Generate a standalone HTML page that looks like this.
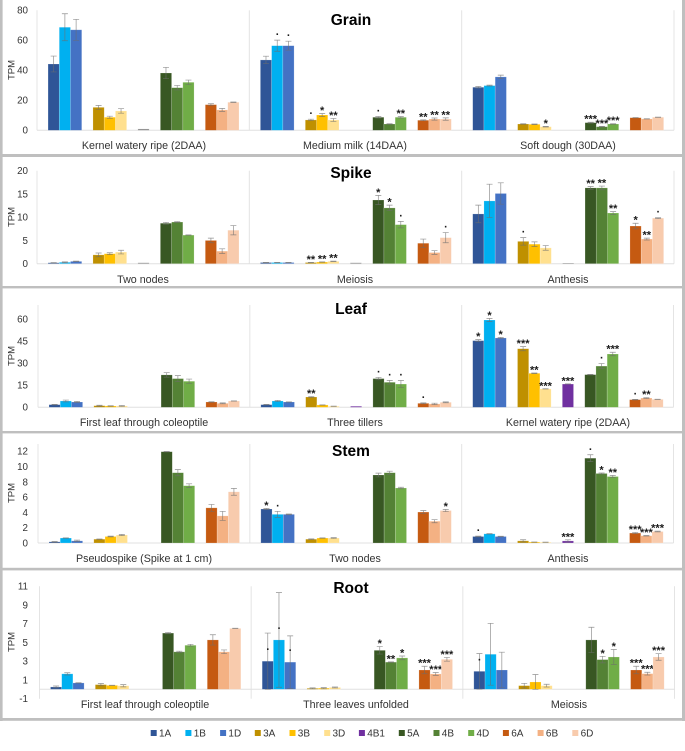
<!DOCTYPE html>
<html lang="en">
<head>
<meta charset="utf-8">
<title>TPM expression by tissue and stage</title>
<style>
html,body{margin:0;padding:0;background:#fff;width:685px;height:751px;overflow:hidden}
svg{display:block;filter:blur(0.35px)}
text{font-family:"Liberation Sans",sans-serif;fill:#333}
.title{font-size:15.5px;font-weight:700;fill:#000;text-anchor:middle}
.cat{font-size:10.7px;text-anchor:middle}
.tpm{font-size:9.5px;text-anchor:middle}
.tick{font-size:9.8px;text-anchor:end}
.legend{font-size:10px}
.mark{font-size:11px;text-anchor:middle;fill:#1a1a1a}
</style>
</head>
<body>
<svg id="figure" width="685" height="751" viewBox="0 0 685 751" xmlns="http://www.w3.org/2000/svg">
  <rect x="0" y="0" width="685" height="751" fill="#fff"/>
  <g fill="#bfbfbf">
    <rect x="0" y="0" width="2.6" height="721"/>
    <rect x="682" y="0" width="3" height="721"/>
    <rect x="0" y="154" width="685" height="3"/>
    <rect x="0" y="286" width="685" height="2.4"/>
    <rect x="0" y="431" width="685" height="2.4"/>
    <rect x="0" y="567.8" width="685" height="2.6"/>
    <rect x="0" y="718" width="685" height="2.8"/>
  </g>

  <g id="panel-grain">
    <text class="title" x="351" y="25">Grain</text>
    <text class="tpm" transform="translate(14.5,70) rotate(-90)">TPM</text>
    <text class="cat" x="144" y="149">Kernel watery ripe (2DAA)</text>
    <text class="cat" x="355" y="149">Medium milk (14DAA)</text>
    <text class="cat" x="568" y="149">Soft dough (30DAA)</text>
  </g>
  <g id="panel-spike">
    <text class="title" x="351" y="178">Spike</text>
    <text class="tpm" transform="translate(14.5,217) rotate(-90)">TPM</text>
    <text class="cat" x="143" y="283">Two nodes</text>
    <text class="cat" x="355" y="283">Meiosis</text>
    <text class="cat" x="568" y="283">Anthesis</text>
  </g>
  <g id="panel-leaf">
    <text class="title" x="351" y="314">Leaf</text>
    <text class="tpm" transform="translate(14.5,356) rotate(-90)">TPM</text>
    <text class="cat" x="144" y="426">First leaf through coleoptile</text>
    <text class="cat" x="355" y="426">Three tillers</text>
    <text class="cat" x="568" y="426">Kernel watery ripe (2DAA)</text>
  </g>
  <g id="panel-stem">
    <text class="title" x="351" y="456">Stem</text>
    <text class="tpm" transform="translate(14.5,493) rotate(-90)">TPM</text>
    <text class="cat" x="144" y="562">Pseudospike (Spike at 1 cm)</text>
    <text class="cat" x="355" y="562">Two nodes</text>
    <text class="cat" x="568" y="562">Anthesis</text>
  </g>
  <g id="panel-root">
    <text class="title" x="351" y="593">Root</text>
    <text class="tpm" transform="translate(14.5,642) rotate(-90)">TPM</text>
    <text class="cat" x="145" y="708">First leaf through coleoptile</text>
    <text class="cat" x="356" y="708">Three leaves unfolded</text>
    <text class="cat" x="569" y="708">Meiosis</text>
  </g>
  <g id="legend"></g>
</svg>

<script>
// Series (order: 1A 1B 1D | 3A 3B 3D | 4B1 | 5A 4B 4D | 6A 6B 6D)
const seriesNames = ['1A','1B','1D','3A','3B','3D','4B1','5A','4B','4D','6A','6B','6D'];
const seriesColors = ['#2f5597','#00b0f0','#4472c4','#bf9000','#ffc000','#ffe08f','#7030a0','#385723','#548235','#70ad47','#c55a11','#f4b183','#f8cbad'];
const clusterSizes = [3,3,1,3,3];

// Tick labels
const grainTicks = [0,20,40,60,80];
const spikeTicks = [0,5,10,15,20];
const leafTicks = [0,15,30,45,60];
const stemTicks = [0,2,4,6,8,10,12];
const rootTicks = [-1,1,3,5,7,9,11];

// Grain
const grainKernelValues = [44.2,68.7,67,15.3,8.7,12.9,0.9,38.2,28.4,32,17.1,13.6,18.7];
const grainKernelErrors = [5.3,9,7,1.3,0.7,1.5,0,3.8,1.5,1.5,0.6,1,0.2];
const grainKernelMarks = ['','','','','','','','','','','','',''];
const grainMilkValues = [46.9,56.4,56.4,6.9,10.2,6.9,0,8.7,4.2,8.7,6.7,7.5,7.5];
const grainMilkErrors = [2.5,3.7,3,0.5,1,1,0,0.5,0.2,0.5,0.3,0.7,0.8];
const grainMilkMarks = ['','.','.','.','*','**','','.','','**','**','**','**'];
const grainDoughValues = [28.7,29.8,35.6,4.2,4,2.4,0,5.1,2.4,4.2,8.4,7.6,8.7];
const grainDoughErrors = [0.5,0.3,1.2,0.2,0.2,0.2,0,0.3,0.2,0.2,0.1,0.1,0.1];
const grainDoughMarks = ['','','','','','*','','***','***','***','','',''];

// Spike
const spikeNodesValues = [0.2,0.3,0.5,1.9,2.15,2.5,0.2,8.7,8.96,6.15,5,2.7,7.2];
const spikeNodesErrors = [0.05,0.1,0.05,0.4,0.2,0.4,0,0.2,0.1,0.05,0.5,0.5,1];
const spikeNodesMarks = ['','','','','','','','','','','','',''];
const spikeMeiosisValues = [0.25,0.25,0.25,0.25,0.35,0.5,0.2,13.7,12,8.4,4.4,2.4,5.6];
const spikeMeiosisErrors = [0.05,0.05,0.05,0.05,0.05,0.05,0,1,0.6,0.7,0.9,0.4,1.1];
const spikeMeiosisMarks = ['','','','**','**','**','','*','*','.','','','.'];
const spikeAnthesisValues = [10.7,13.5,15.1,4.8,4.2,3.4,0.15,16.3,16.3,10.9,8.1,5.3,9.8];
const spikeAnthesisErrors = [1.9,3.6,2.3,0.8,0.5,0.5,0,0.3,0.4,0.3,0.6,0.2,0.1];
const spikeAnthesisMarks = ['','','','.','','','','**','**','**','*','**','.'];

// Leaf
const leafFirstValues = [1.8,4.3,3.6,1.1,0.9,0.9,0,22,19.5,17.7,3.6,2.7,4.3];
const leafFirstErrors = [0.2,0.6,0.4,0.3,0.2,0.3,0,1.5,2,1.5,0.2,0.3,0.1];
const leafFirstMarks = ['','','','','','','','','','','','',''];
const leafTillersValues = [1.8,4.3,3.6,7,1.6,0.7,0.7,19.5,17,15.8,2.7,2.3,3.4];
const leafTillersErrors = [0.2,0.4,0.1,0.3,0.1,0.1,0,0.8,1.3,2.4,0.3,0.5,0.3];
const leafTillersMarks = ['','','','**','','','','.','.','.','.','',''];
const leafKernelValues = [45.3,59.3,47.1,39.8,23.1,12.5,15.8,22.2,28,36.2,5.2,6.3,5.4];
const leafKernelErrors = [0.7,1.1,0.4,1.4,0.2,0.1,0.1,0.2,1.7,1.2,0.2,0.3,0.1];
const leafKernelMarks = ['*','*','*','***','**','***','***','','.','***','.','**',''];

// Stem
const stemPseudoValues = [0.15,0.65,0.28,0.5,0.85,1.05,0,11.95,9.2,7.5,4.6,3.55,6.7];
const stemPseudoErrors = [0.05,0.03,0.1,0.03,0.05,0.08,0,0.03,0.4,0.25,0.45,0.6,0.45];
const stemPseudoMarks = ['','','','','','','','','','','','',''];
const stemNodesValues = [4.45,3.75,3.75,0.5,0.65,0.65,0,8.9,9.2,7.2,4.05,2.85,4.25];
const stemNodesErrors = [0.08,0.4,0.05,0.05,0.03,0.05,0,0.25,0.2,0.1,0.2,0.2,0.15];
const stemNodesMarks = ['*','.','','','','','','','','','','','*'];
const stemAnthesisValues = [0.85,1.2,0.85,0.28,0.12,0.1,0.27,11.1,9.1,8.7,1.3,0.95,1.5];
const stemAnthesisErrors = [0.05,0.03,0.03,0.15,0.02,0.02,0.15,0.45,0.07,0.15,0.08,0.03,0.05];
const stemAnthesisMarks = ['.','','','','','','***','.','*','**','***','***','***'];

// Root
const rootFirstValues = [0.25,1.65,0.68,0.5,0.42,0.38,0,6,4,4.7,5.27,4,6.5];
const rootFirstErrors = [0.1,0.12,0.02,0.12,0.02,0.12,0,0.07,0.07,0.1,0.55,0.2,0.02];
const rootFirstMarks = ['','','','','','','','','','','','',''];
const rootThreeValues = [3,5.27,2.9,0.1,0.12,0.2,0,4.16,2.9,3.35,2.06,1.64,3.2];
const rootThreeErrors = [3,5.05,2.8,0.05,0.06,0.05,0,0.4,0.03,0.2,0.4,0.15,0.2];
const rootThreeMarks = ['.','.','.','','','','','*','**','*','***','***','***'];
const rootMeiosisValues = [1.92,3.74,2.06,0.39,0.78,0.39,0,5.27,3.17,3.45,2.06,1.67,3.45];
const rootMeiosisErrors = [1.9,3.3,1.9,0.25,0.8,0.15,0,1.35,0.35,0.8,0.4,0.15,0.35];
const rootMeiosisMarks = ['.','','','','','','','','*','*','***','***','***'];

const grainGroups = [[grainKernelValues,grainKernelErrors,grainKernelMarks],[grainMilkValues,grainMilkErrors,grainMilkMarks],[grainDoughValues,grainDoughErrors,grainDoughMarks]];
const spikeGroups = [[spikeNodesValues,spikeNodesErrors,spikeNodesMarks],[spikeMeiosisValues,spikeMeiosisErrors,spikeMeiosisMarks],[spikeAnthesisValues,spikeAnthesisErrors,spikeAnthesisMarks]];
const leafGroups = [[leafFirstValues,leafFirstErrors,leafFirstMarks],[leafTillersValues,leafTillersErrors,leafTillersMarks],[leafKernelValues,leafKernelErrors,leafKernelMarks]];
const stemGroups = [[stemPseudoValues,stemPseudoErrors,stemPseudoMarks],[stemNodesValues,stemNodesErrors,stemNodesMarks],[stemAnthesisValues,stemAnthesisErrors,stemAnthesisMarks]];
const rootGroups = [[rootFirstValues,rootFirstErrors,rootFirstMarks],[rootThreeValues,rootThreeErrors,rootThreeMarks],[rootMeiosisValues,rootMeiosisErrors,rootMeiosisMarks]];

const NS = 'http://www.w3.org/2000/svg';
function make(tag, parent, attrs) {
  const el = document.createElementNS(NS, tag);
  for (const k in attrs) el.setAttribute(k, attrs[k]);
  parent.appendChild(el);
  return el;
}

// Slot index of each series inside a category, with one empty slot between clusters
function slotOf(seriesIndex) {
  let seen = 0, slot = 0;
  for (const size of clusterSizes) {
    if (seriesIndex < seen + size) return slot + (seriesIndex - seen);
    seen += size;
    slot += size + 1;
  }
  return slot;
}

function drawPanel(cfg) {
  const root = document.getElementById(cfg.id);
  const yScale = v => cfg.zeroY - (v - 0) * cfg.pxPerUnit;
  const xLeft = cfg.left, xRight = cfg.right;
  const groupW = (xRight - xLeft) / cfg.groups.length;
  const slotW = groupW * 0.0529;
  const margin = groupW * 0.052;

  const axes = make('g', root, {});
  
  

  for (let i = 0; i <= cfg.groups.length; i++) {
    const line = make('line', axes, {x1: xLeft + i * groupW, x2: xLeft + i * groupW, y1: cfg.top, y2: cfg.bottom, stroke: '#e4e4e4', 'stroke-width': 1});
    
    
  }
  const base = make('line', axes, {x1: xLeft, x2: xRight, y1: cfg.zeroY, y2: cfg.zeroY, stroke: '#e0e0e0', 'stroke-width': 1});
  
  

  cfg.ticks.forEach(t => {
    const label = make('text', axes, {class: 'tick', x: 28, y: yScale(t) + 3.4});
    label.textContent = t;
    
    
  });

  cfg.groups.forEach((group, g) => {
    const values = group[0], errors = group[1], marks = group[2];
    values.forEach((v, s) => {
      if (v <= 0) return;
      const x = xLeft + g * groupW + margin + slotOf(s) * slotW;
      const yTop = yScale(v);
      const muted = cfg.mutedThinBars && seriesNames[s] === '4B1' && v < 1;
      const bar = make('rect', root, {
        x: x, y: yTop, width: slotW, height: Math.max(cfg.zeroY - yTop, 0.5),
        fill: muted ? '#8c8c8c' : seriesColors[s],
        stroke: '#fff', 'stroke-opacity': 0.3, 'stroke-width': 0.6
      });
      
      

      const cx = x + slotW / 2;
      const yHi = yScale(v + errors[s]);
      const yLo = Math.min(yScale(v - errors[s]), cfg.zeroY);
      if (errors[s] > 0) {
        const err = make('path', root, {
          d: 'M' + (cx - 3) + ' ' + yHi + 'H' + (cx + 3) + 'M' + cx + ' ' + yHi + 'V' + yLo + 'M' + (cx - 3) + ' ' + yLo + 'H' + (cx + 3),
          fill: 'none', stroke: '#6e6e6e', 'stroke-opacity': 0.75, 'stroke-width': 0.7
        });
        
        
      }

      const mark = marks[s];
      if (mark) {
        const bigError = yTop - yHi > 15;
        const anchor = bigError ? yTop - 6 : yHi;
        const isDot = mark === '.';
        const t = make('text', root, {
          class: 'mark', x: cx,
          y: isDot ? anchor - 5 : anchor + 0.5,
          'font-weight': 700
        });
        t.textContent = mark;
        
        
      }
    });
  });
}

drawPanel({id: 'panel-grain', name: 'grain', left: 37, right: 674, top: 10.3, bottom: 130.3, zeroY: 130.3, pxPerUnit: 1.5, ticks: grainTicks, groups: grainGroups, mutedThinBars: true});
drawPanel({id: 'panel-spike', name: 'spike', left: 37, right: 674, top: 170.7, bottom: 263.7, zeroY: 263.7, pxPerUnit: 4.65, ticks: spikeTicks, groups: spikeGroups, mutedThinBars: true});
drawPanel({id: 'panel-leaf', name: 'leaf', left: 38, right: 673.5, top: 305, bottom: 407.3, zeroY: 407.3, pxPerUnit: 1.472, ticks: leafTicks, groups: leafGroups, mutedThinBars: false});
drawPanel({id: 'panel-stem', name: 'stem', left: 38, right: 673.5, top: 444, bottom: 543, zeroY: 543, pxPerUnit: 7.64, ticks: stemTicks, groups: stemGroups, mutedThinBars: false});
drawPanel({id: 'panel-root', name: 'root', left: 39.5, right: 674.5, top: 586.3, bottom: 698.7, zeroY: 689.3, pxPerUnit: 9.37, ticks: rootTicks, groups: rootGroups, mutedThinBars: false});

// Legend
const legendRoot = document.getElementById('legend');
let legendX = 150.7;
seriesNames.forEach((name, i) => {
  const entry = make('g', legendRoot, {});
  
  
  make('rect', entry, {x: legendX, y: 730, width: 6, height: 6, fill: seriesColors[i]});
  const label = make('text', entry, {class: 'legend', x: legendX + 8.3, y: 736.7});
  label.textContent = name;
  legendX += name.length > 2 ? 39.9 : 34.7;
});
</script>
</body>
</html>
